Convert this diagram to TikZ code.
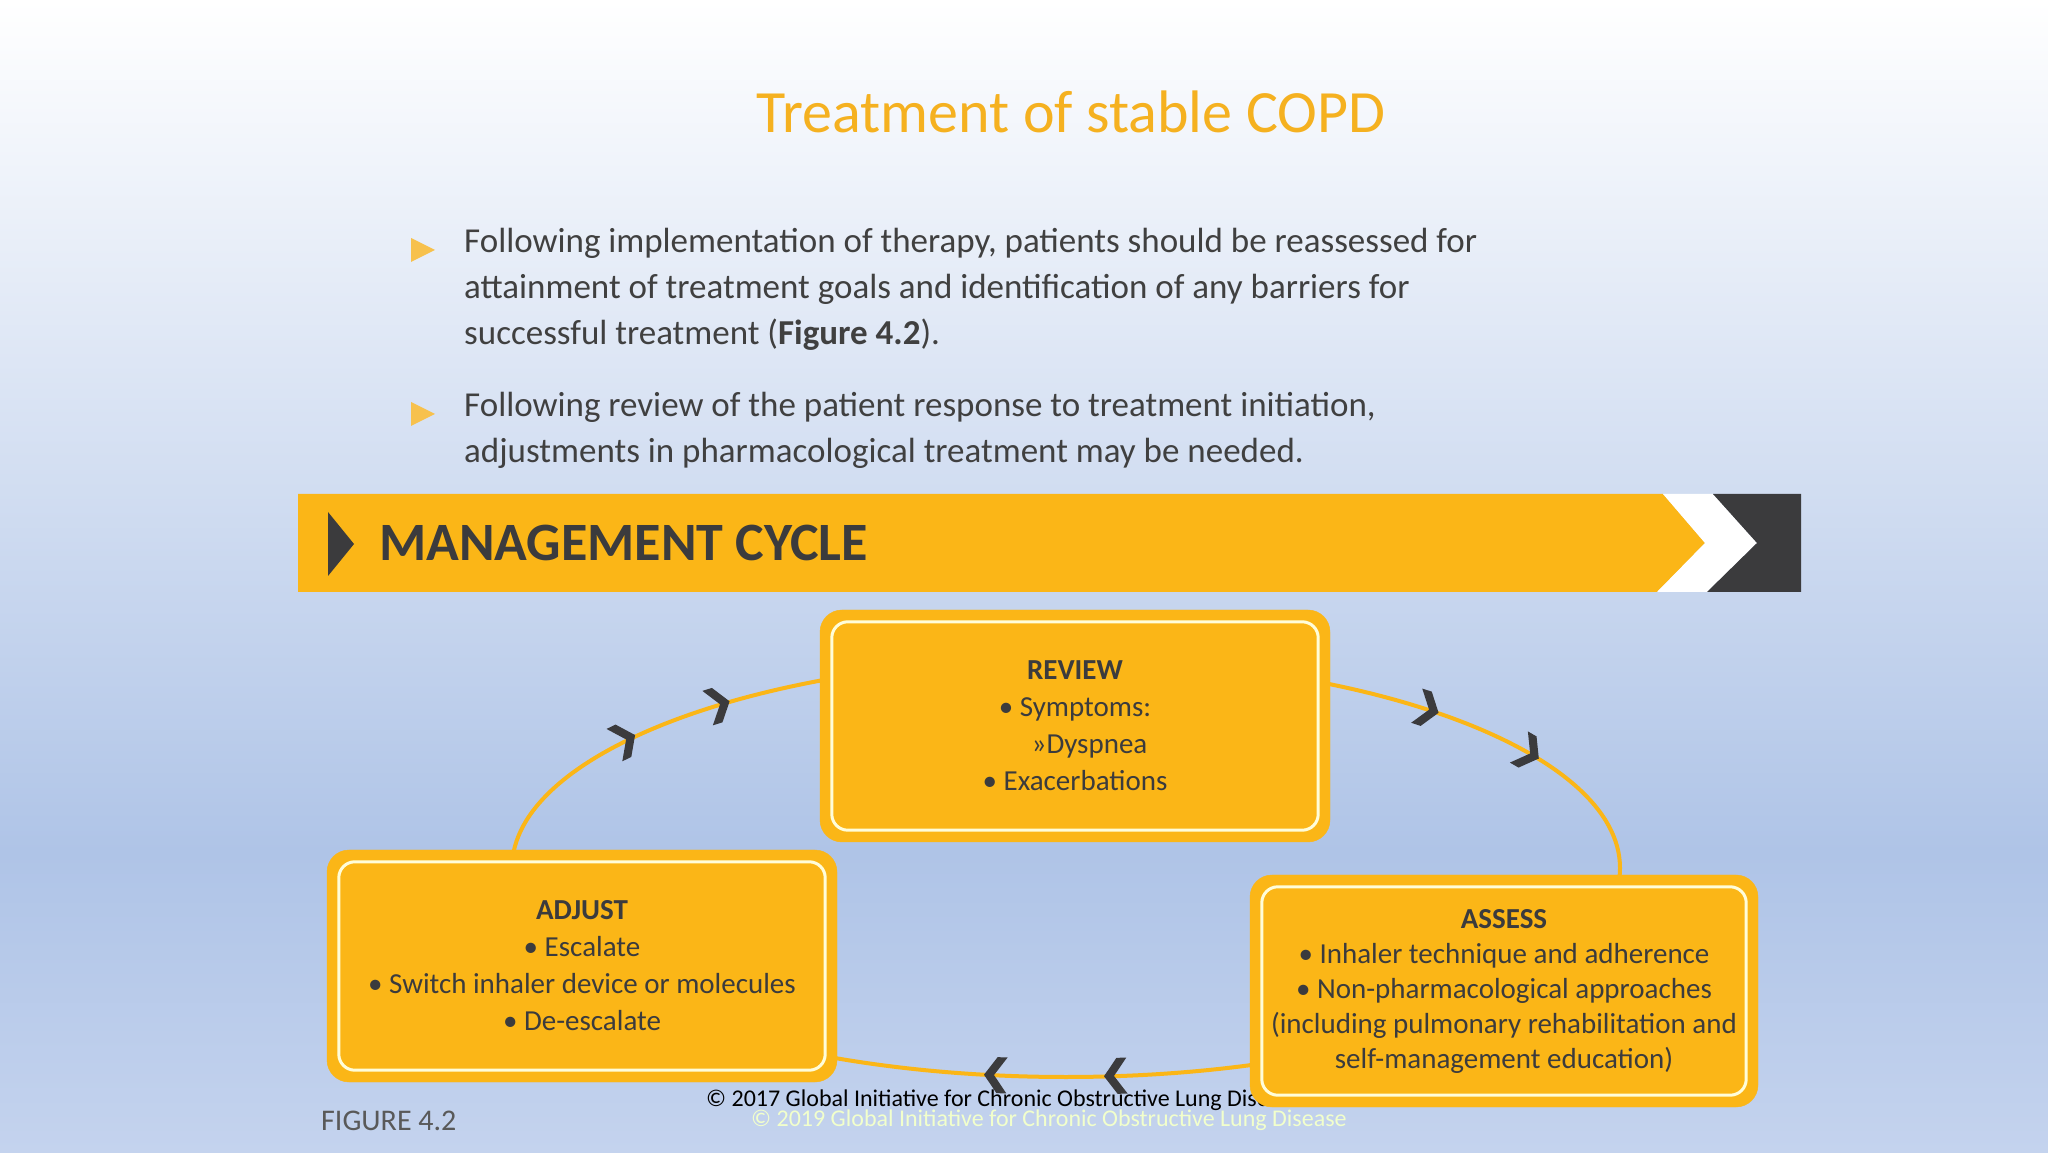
\documentclass[tikz,border=0pt]{standalone}
\usepackage{fontspec}
\setmainfont{Carlito}
\definecolor{boxy}{HTML}{FBB617}
\definecolor{titley}{HTML}{F5B120}
\definecolor{txt}{HTML}{404040}
\definecolor{dk}{HTML}{3B3B3D}
\definecolor{bgb}{HTML}{AFC4E7}
\definecolor{bgc}{HTML}{C4D3EE}
\tikzset{
  box/.style={fill=boxy, draw=boxy, rounded corners=22, minimum width=#1, minimum height=232},
  innerline/.style={draw=white!85!yellow, line width=3, rounded corners=16},
  boxtext/.style={align=center, text=dk, font=\fontsize{29}{37}\selectfont},
  chev/.style={fill=dk},
  bul/.style={fill=titley!80!white},
}
\newcommand{\chevat}[3]{\fill[chev, shift={(#1,#2)}, rotate=#3] (-14,18) -- (-4,18) -- (9,0) -- (-4,-18) -- (-14,-18) -- (-1,0) -- cycle;}
\begin{document}
\begin{tikzpicture}[x=1pt,y=1pt]
\useasboundingbox (0,0) rectangle (2048,1152);
\shade[top color=white, bottom color=bgb] (0,1152) rectangle (2048,300);
\shade[top color=bgb, bottom color=bgc] (0,300) rectangle (2048,0);
% title
\node[text=titley, font=\fontsize{60}{70}\selectfont] (title) at (1071,1040) {Treatment of stable COPD};
% bullets
\fill[bul] (411,914) -- (411,890) -- (435,902) -- cycle;
\fill[bul] (411,750) -- (411,726) -- (435,738) -- cycle;
\node[anchor=north west, align=left, text=txt, font=\fontsize{35}{46}\selectfont, inner sep=0] (b1) at (464,924)
 {Following implementation of therapy, patients should be reassessed for\\attainment of treatment goals and identification of any barriers for\\successful treatment (\textbf{Figure 4.2}).};
\node[anchor=north west, align=left, text=txt, font=\fontsize{35}{46}\selectfont, inner sep=0] (b2) at (464,760)
 {Following review of the patient response to treatment initiation,\\adjustments in pharmacological treatment may be needed.};
% banner
\fill[boxy] (298,560) -- (298,658) -- (1663,658) -- (1705,609) -- (1657,560) -- cycle;
\fill[white] (1663,658) -- (1713,658) -- (1757,609) -- (1707,560) -- (1657,560) -- (1705,609) -- cycle;
\fill[dk] (1713,658) -- (1801,658) -- (1801,560) -- (1707,560) -- (1757,609) -- cycle;
\fill[dk] (328,640) -- (354,608) -- (328,576) -- cycle;
\node[anchor=west, text=dk, font=\fontsize{54}{60}\selectfont\bfseries, inner sep=0] (mc) at (379,609) {MANAGEMENT CYCLE};
% cycle ellipse
\draw[boxy, line width=4] (1066,284) ellipse [x radius=554, y radius=209];
\chevat{627}{413}{26}
\chevat{721}{448}{17}
\chevat{1430}{442}{-18}
\chevat{1531}{398}{-30}
% bottom texts
\node[anchor=west, text=black, font=\fontsize{24}{28}\selectfont, inner sep=0] (copy) at (706,52) {© 2017 Global Initiative for Chronic Obstructive Lung Disease};
\node[anchor=west, text=green!25!yellow!20!white, font=\fontsize{24}{28}\selectfont, inner sep=0] (copy2) at (751,32) {© 2019 Global Initiative for Chronic Obstructive Lung Disease};
\node[anchor=west, text=black!65, font=\fontsize{30}{34}\selectfont, inner sep=0] (fig) at (321,31) {FIGURE 4.2};
% boxes
\node[box=510] (review) at (1075,426) {};
\draw[innerline] ([shift={(12,-12)}]review.north west) rectangle ([shift={(-12,12)}]review.south east);
\node[boxtext] (reviewt) at (review.center) {\textbf{REVIEW}\\• Symptoms:\\\hspace*{1em}»Dyspnea\\• Exacerbations};
\node[box=510] (adjust) at (582,186) {};
\draw[innerline] ([shift={(12,-12)}]adjust.north west) rectangle ([shift={(-12,12)}]adjust.south east);
\node[boxtext] (adjustt) at (adjust.center) {\textbf{ADJUST}\\• Escalate\\• Switch inhaler device or molecules\\• De-escalate};
\node[box=508] (assess) at (1504,161) {};
\draw[innerline] ([shift={(12,-12)}]assess.north west) rectangle ([shift={(-12,12)}]assess.south east);
\node[boxtext, font=\fontsize{29}{35}\selectfont] (assesst) at (assess.center) {\textbf{ASSESS}\\• Inhaler technique and adherence\\• Non-pharmacological approaches\\(including pulmonary rehabilitation and\\self-management education)};
\chevat{993}{77}{178}
\chevat{1113}{76}{182}
\end{tikzpicture}
\end{document}
